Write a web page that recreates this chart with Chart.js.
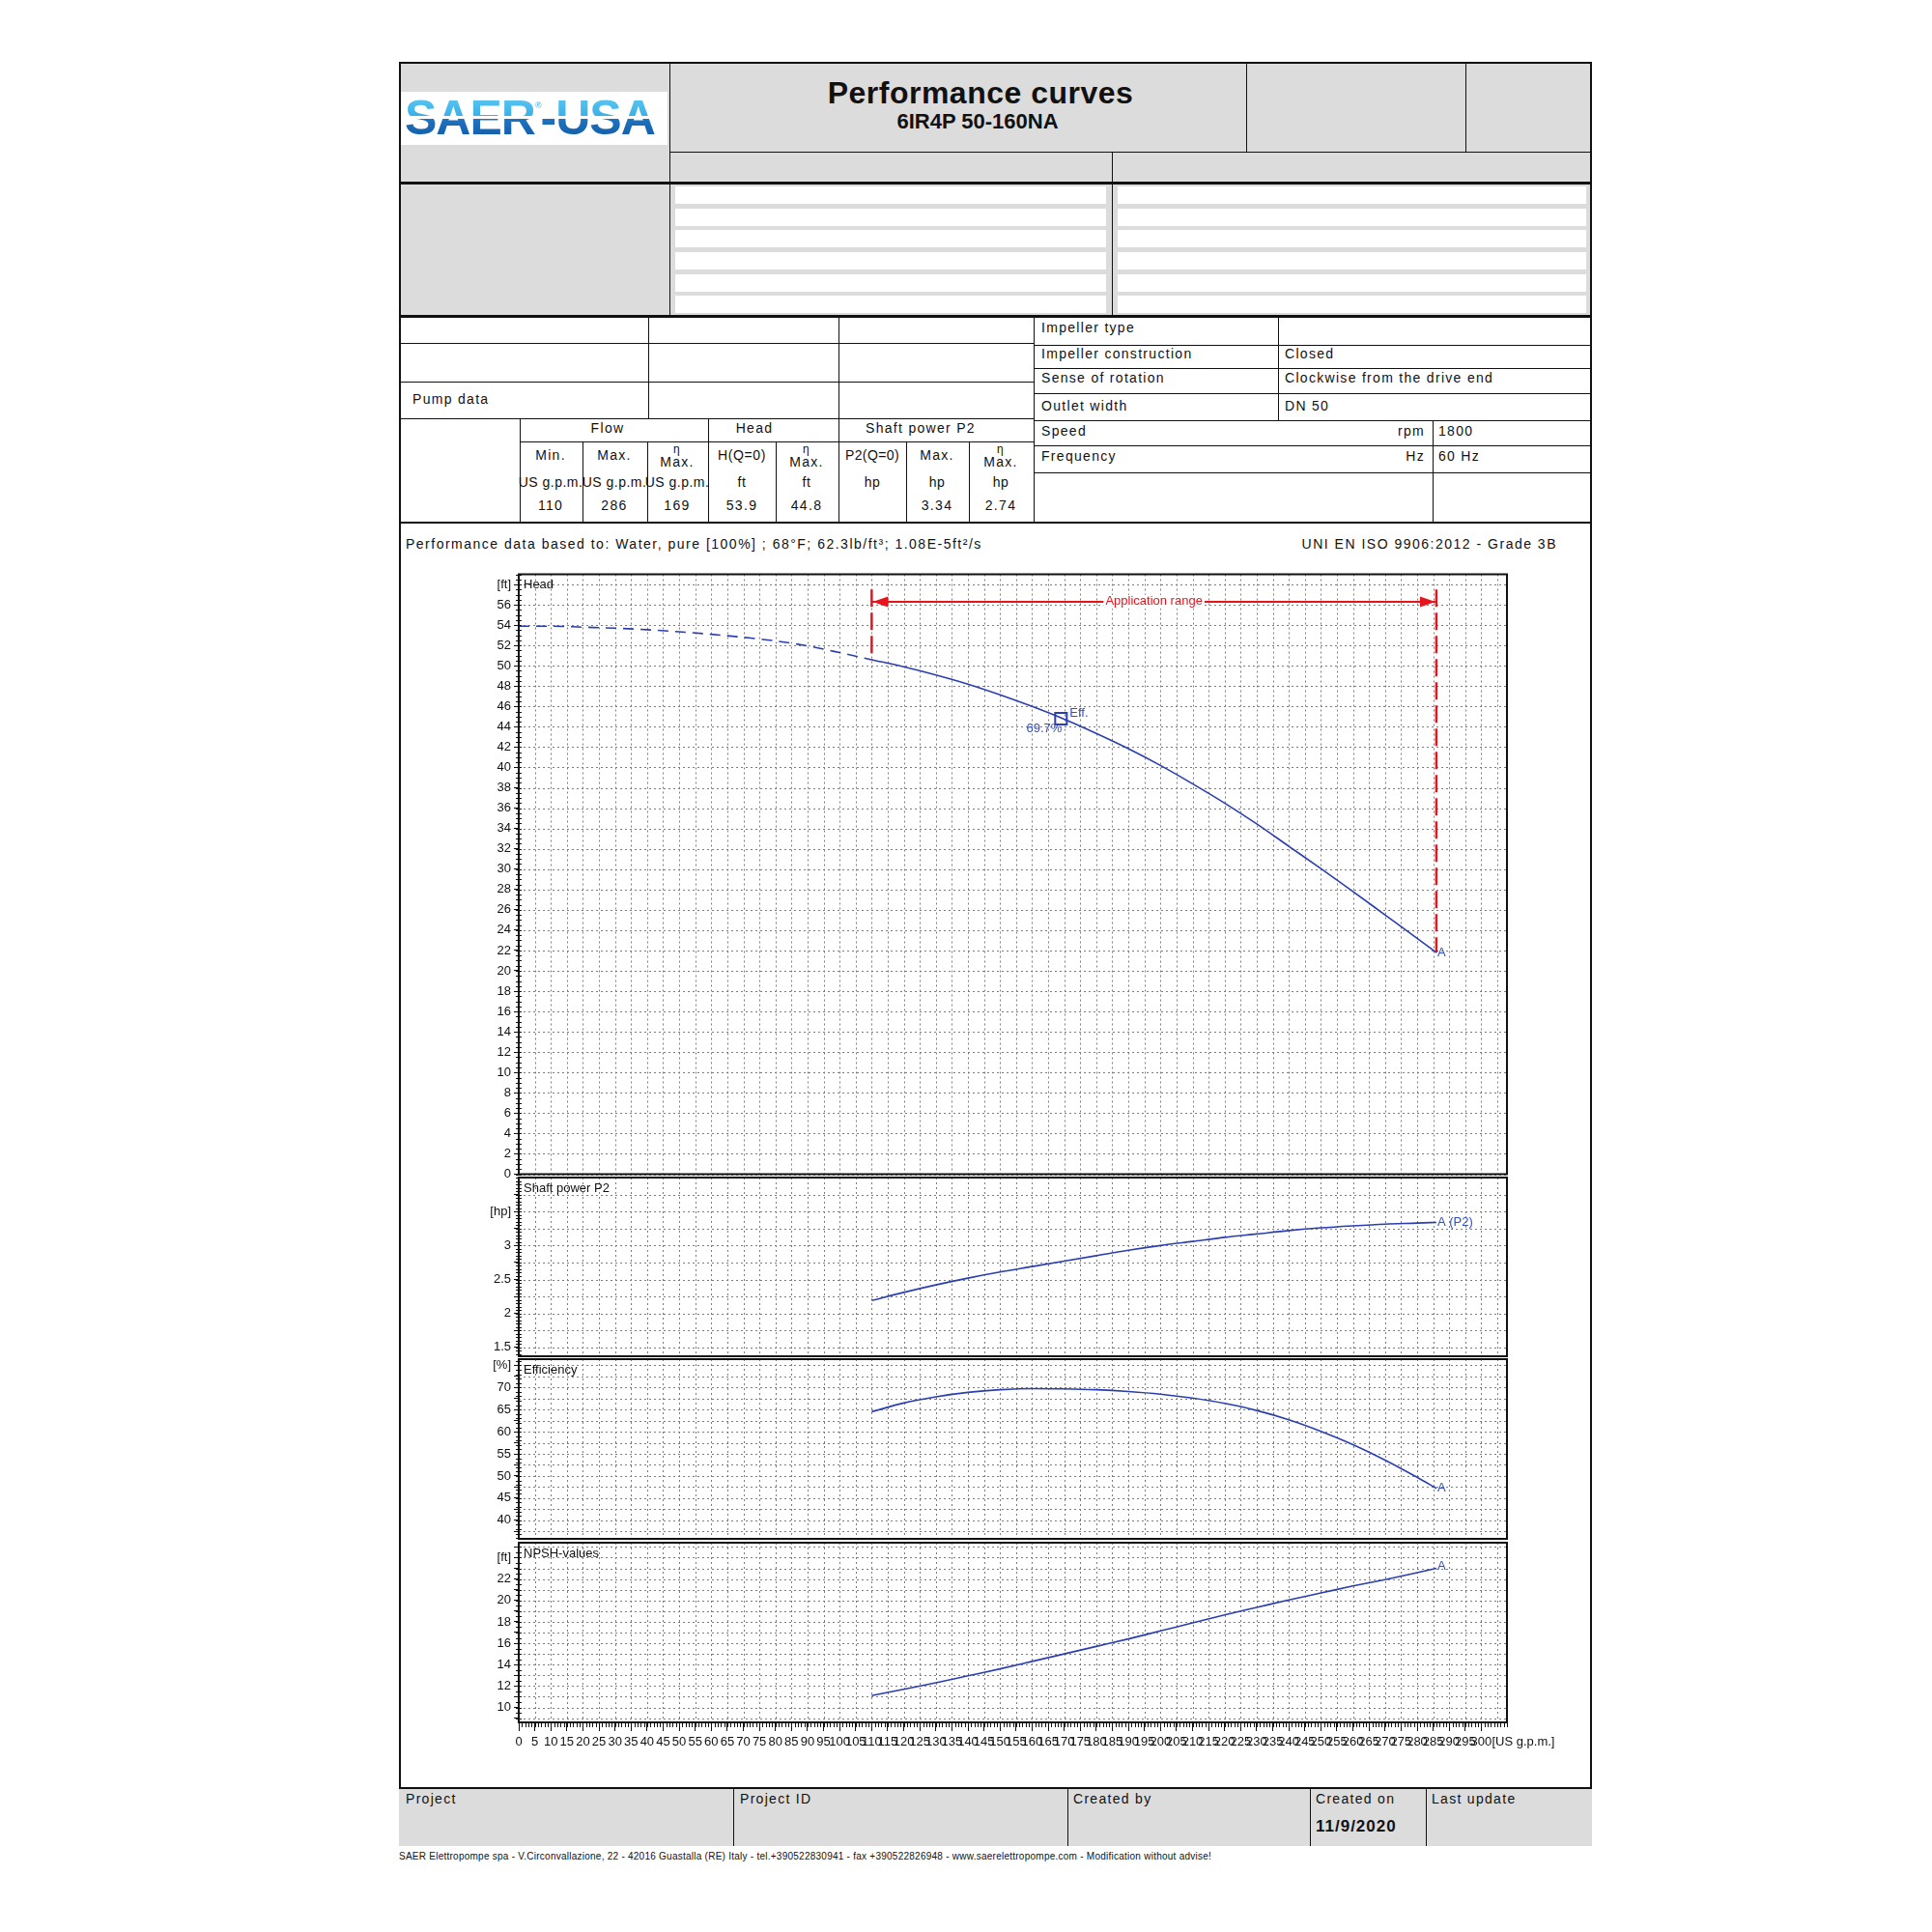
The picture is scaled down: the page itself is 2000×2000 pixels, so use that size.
<!DOCTYPE html>
<html lang="en">
<head>
<meta charset="UTF-8">
<title>Performance curves - 6IR4P 50-160NA</title>
<script src="https://cdn.jsdelivr.net/npm/chart.js"></script>
<style>
  body { margin: 0; background: #fff; font-family: "Liberation Sans", Arial, sans-serif; color: #111; }
  #page { position: relative; width: 2000px; height: 2000px; overflow: hidden; }
  .box { position: absolute; box-sizing: border-box; }
  .t { position: absolute; white-space: nowrap; font-size: 14px; line-height: 16px; letter-spacing: 1.3px; }
  canvas { position: absolute; }
  .logo {
    position: absolute; left: 419px; top: 95px; font-size: 50px; line-height: 54px; font-weight: bold;
    letter-spacing: -1px;
    background: linear-gradient(to bottom, #63cdf3 0%, #3bb0e8 46%, #ffffff 47%, #ffffff 51%, #1f73c0 52%, #0e55a0 100%);
    -webkit-background-clip: text; background-clip: text; color: transparent;
  }
</style>
</head>
<body>
<div id="page">
  <div class="logo">SAER<span style="font-size:9px;vertical-align:top;line-height:28px">®</span>-USA</div>
</div>

<script>
// ---- data read from the sheet ----
const flowLow = [0, 10, 20, 30, 40, 50, 60, 70, 80, 90, 100, 110];
const headLow = [53.9, 53.9, 53.8, 53.7, 53.55, 53.35, 53.1, 52.8, 52.45, 51.95, 51.3, 50.6];

const flowOp  = [110, 120, 130, 140, 150, 160, 170, 180, 190, 200, 210, 220, 230, 240, 250, 260, 270, 280, 286];
const headOp  = [50.6, 49.9, 49.1, 48.2, 47.15, 46.0, 44.75, 43.35, 41.85, 40.2, 38.4, 36.5, 34.45, 32.25, 30.05, 27.8, 25.5, 23.2, 21.8];
const powerOp = [2.19, 2.31, 2.42, 2.52, 2.61, 2.69, 2.77, 2.85, 2.93, 3.0, 3.06, 3.12, 3.17, 3.22, 3.26, 3.29, 3.315, 3.33, 3.34];
const effOp   = [64.5, 66.5, 67.9, 68.9, 69.5, 69.75, 69.7, 69.5, 69.1, 68.5, 67.6, 66.4, 64.8, 62.7, 60.1, 57.1, 53.6, 49.7, 47.2];
const npshOp  = [11.1, 11.7, 12.3, 12.95, 13.6, 14.3, 15.0, 15.7, 16.4, 17.15, 17.9, 18.65, 19.35, 20.05, 20.7, 21.35, 21.95, 22.6, 23.0];

const bepFlow = 169, bepHead = 44.8, bepEff = 69.7;
const appRange = [110, 286];
const appTop = 57.5, appArrow = 56.3;

// ---- axes / ticks ----
const flowMax = 308;
const flowTicks = [0, 5, 10, 15, 20, 25, 30, 35, 40, 45, 50, 55, 60, 65, 70, 75, 80, 85, 90, 95, 100,
  105, 110, 115, 120, 125, 130, 135, 140, 145, 150, 155, 160, 165, 170, 175, 180, 185, 190, 195, 200,
  205, 210, 215, 220, 225, 230, 235, 240, 245, 250, 255, 260, 265, 270, 275, 280, 285, 290, 295, 300];
const flowGrid = flowTicks.concat([305]);

const headGrid = [0, 2, 4, 6, 8, 10, 12, 14, 16, 18, 20, 22, 24, 26, 28, 30, 32, 34, 36, 38, 40, 42, 44, 46, 48, 50, 52, 54, 56, 58];
const powerGrid = [1.5, 1.75, 2, 2.25, 2.5, 2.75, 3, 3.25, 3.5, 3.75];
const powerLabels = [1.5, 2, 2.5, 3];
const effGrid = [37.5, 40, 42.5, 45, 47.5, 50, 52.5, 55, 57.5, 60, 62.5, 65, 67.5, 70, 72.5, 75];
const effLabels = [40, 45, 50, 55, 60, 65, 70];
const npshGrid = [9, 10, 11, 12, 13, 14, 15, 16, 17, 18, 19, 20, 21, 22, 23, 24, 25];
const npshLabels = [10, 12, 14, 16, 18, 20, 22];

const BLUE = '#2a3eb1', LBLUE = '#3050c8', RED = '#e8141c';
const FONT = '"Liberation Sans Narrow", "Liberation Sans", Arial, sans-serif';
Chart.defaults.font.family = FONT;
Chart.defaults.font.size = 13;
Chart.defaults.color = '#111';

// ---- page layout helpers ----
const page = document.getElementById('page');
function box(x, y, w, h, bg) {
  const d = document.createElement('div');
  d.className = 'box';
  d.style.cssText = `left:${x}px;top:${y}px;width:${w}px;height:${h}px;background:${bg}`;
  page.appendChild(d);
}
function hline(x1, x2, y, t) { box(x1, y, x2 - x1, t || 1, '#111'); }
function vline(x, y1, y2, t) { box(x, y1, t || 1, y2 - y1, '#111'); }
function text(x, cy, s, align, css) {
  const d = document.createElement('div');
  d.className = 't';
  d.textContent = s;
  const tx = align === 'c' ? 'translateX(-50%)' : align === 'r' ? 'translateX(-100%)' : 'none';
  d.style.cssText = `left:${x}px;top:${cy - 8}px;transform:${tx};` + (css || '');
  page.appendChild(d);
}
const GRAY = '#dcdcdc';

// header block
box(413, 64, 1235, 125, GRAY);
box(415, 95, 276, 55, '#fff');
page.appendChild(document.querySelector('.logo'));
text(1015, 96, 'Performance curves', 'c', 'font-size:32px;line-height:36px;top:78px;font-weight:bold;letter-spacing:0.5px');
text(1012, 126, '6IR4P 50-160NA', 'c', 'font-size:22px;line-height:24px;top:114px;font-weight:bold;letter-spacing:0');
vline(693, 64, 327); vline(1290, 64, 157); vline(1517, 64, 157);
hline(693, 1648, 157); vline(1151, 157, 327);
hline(413, 1648, 188, 3);

// blank info block
box(413, 191, 1235, 135, GRAY);
[193, 216, 238, 261, 284, 306].forEach(y => { box(699, y, 446, 18, '#fff'); box(1157, y, 485, 18, '#fff'); });
vline(693, 189, 327); vline(1151, 189, 327);
hline(413, 1648, 326, 3);

// pump data table
hline(413, 1070, 355); hline(413, 1070, 395); hline(413, 1070, 433);
vline(671, 329, 433); vline(868, 329, 541);
vline(538, 433, 541); vline(733, 433, 541); hline(538, 1070, 457);
[603, 670, 803, 938, 1003].forEach(x => vline(x, 457, 541));
vline(1070, 329, 541);
[357, 381, 407, 435, 461, 489].forEach(y => hline(1070, 1648, y));
vline(1323, 329, 435); vline(1483, 435, 541);
hline(413, 1648, 540, 2);

text(427, 413, 'Pump data');
text(629, 443, 'Flow', 'c'); text(781, 443, 'Head', 'c'); text(953, 443, 'Shaft power P2', 'c');
text(570, 471, 'Min.', 'c'); text(636, 471, 'Max.', 'c');
text(701, 465, '\u03b7', 'c', 'font-size:12px'); text(701, 478, 'Max.', 'c');
text(768, 471, 'H(Q=0)', 'c', 'letter-spacing:0.6px');
text(835, 465, '\u03b7', 'c', 'font-size:12px'); text(835, 478, 'Max.', 'c');
text(903, 471, 'P2(Q=0)', 'c', 'letter-spacing:0.4px'); text(970, 471, 'Max.', 'c');
text(1036, 465, '\u03b7', 'c', 'font-size:12px'); text(1036, 478, 'Max.', 'c');
['US g.p.m.', 'US g.p.m.', 'US g.p.m.', 'ft', 'ft', 'hp', 'hp', 'hp'].forEach((s, i) =>
  text([570, 636, 701, 768, 835, 903, 970, 1036][i], 499, s, 'c', 'letter-spacing:0.5px'));
['110', '286', '169', '53.9', '44.8', '', '3.34', '2.74'].forEach((s, i) =>
  text([570, 636, 701, 768, 835, 903, 970, 1036][i], 523, s, 'c'));

text(1078, 339, 'Impeller type');
text(1078, 366, 'Impeller construction'); text(1330, 366, 'Closed');
text(1078, 391, 'Sense of rotation'); text(1330, 391, 'Clockwise from the drive end');
text(1078, 420, 'Outlet width'); text(1330, 420, 'DN 50');
text(1078, 446, 'Speed'); text(1475, 446, 'rpm', 'r'); text(1489, 446, '1800');
text(1078, 472, 'Frequency'); text(1475, 472, 'Hz', 'r'); text(1489, 472, '60 Hz');

text(420, 563, 'Performance data based to:  Water, pure [100%] ; 68\u00b0F; 62.3lb/ft\u00b3; 1.08E-5ft\u00b2/s', null, 'letter-spacing:1.5px');
text(1612, 563, 'UNI EN ISO 9906:2012 - Grade 3B', 'r', 'letter-spacing:1.5px');

// frame
hline(413, 1648, 64, 2); hline(413, 1648, 1850, 2);
vline(413, 64, 1851, 2); vline(1646, 64, 1851, 2);

// footer
box(413, 1852, 1235, 59, GRAY);
[759, 1105, 1356, 1476].forEach(x => vline(x, 1852, 1911));
text(420, 1862, 'Project'); text(766, 1862, 'Project ID'); text(1111, 1862, 'Created by');
text(1362, 1862, 'Created on'); text(1482, 1862, 'Last update');
text(1362, 1890, '11/9/2020', null, 'font-weight:bold;font-size:17px;line-height:18px;letter-spacing:1px');
text(413, 1922, 'SAER Elettropompe spa - V.Circonvallazione, 22 - 42016 Guastalla (RE) Italy - tel.+390522830941 - fax +390522826948 - www.saerelettropompe.com - Modification without advise!',
  null, 'font-size:10px;letter-spacing:0.25px');

// ---- charts ----
function pts(xs, ys) { return xs.map((x, i) => ({ x: x, y: ys[i] })); }
function curve(xs, ys, extra) {
  return Object.assign({ data: pts(xs, ys), borderColor: BLUE, borderWidth: 1.6, pointRadius: 0,
    cubicInterpolationMode: 'monotone', fill: false }, extra || {});
}

function panelPlugin(info) {
  return {
    id: 'panel',
    beforeDatasetsDraw(chart) {
      const { ctx, chartArea: a, scales: { x, y } } = chart;
      ctx.save();
      ctx.strokeStyle = '#7c7c7c';
      ctx.lineWidth = 1;
      ctx.setLineDash([2, 3]);
      ctx.beginPath();
      flowGrid.forEach(v => {
        const px = Math.round(x.getPixelForValue(v)) + 0.5;
        ctx.moveTo(px, a.top); ctx.lineTo(px, a.bottom);
      });
      info.grid.forEach(v => {
        const py = Math.round(y.getPixelForValue(v)) + 0.5;
        ctx.moveTo(a.left, py); ctx.lineTo(a.right, py);
      });
      ctx.stroke();
      ctx.restore();
    },
    afterDatasetsDraw(chart) {
      const { ctx, chartArea: a, scales: { x, y } } = chart;
      ctx.save();
      // minor ruler ticks on the left axis
      ctx.strokeStyle = '#111';
      ctx.lineWidth = 1;
      ctx.beginPath();
      for (let v = info.minorStart; v <= y.max; v += info.minor) {
        const py = Math.round(y.getPixelForValue(v)) + 0.5;
        ctx.moveTo(a.left - 3, py); ctx.lineTo(a.left + 3, py);
      }
      ctx.stroke();
      // frame
      ctx.lineWidth = 2;
      ctx.strokeRect(a.left, a.top, a.right - a.left, a.bottom - a.top);
      // panel title
      ctx.fillStyle = '#111';
      ctx.font = '13px ' + FONT;
      ctx.textBaseline = 'middle';
      ctx.textAlign = 'left';
      ctx.fillText(info.title, a.left + 5, a.top + 11);
      // end label
      if (info.endLabel) {
        const px = x.getPixelForValue(flowOp[flowOp.length - 1]);
        const py = y.getPixelForValue(info.endValue);
        ctx.fillStyle = LBLUE;
        ctx.fillText(info.endLabel, px + 1, py + (info.endDy || 0));
      }
      if (info.extra) info.extra(chart);
      ctx.restore();
    }
  };
}

function drawHeadExtras(chart) {
  const { ctx, scales: { x, y } } = chart;
  const x1 = x.getPixelForValue(appRange[0]);
  const x2 = x.getPixelForValue(appRange[1]);
  const ya = y.getPixelForValue(appArrow);
  ctx.fillStyle = RED;
  ctx.beginPath(); ctx.moveTo(x1 + 1, ya); ctx.lineTo(x1 + 17, ya - 5.5); ctx.lineTo(x1 + 17, ya + 5.5); ctx.closePath(); ctx.fill();
  ctx.beginPath(); ctx.moveTo(x2 - 1, ya); ctx.lineTo(x2 - 17, ya - 5.5); ctx.lineTo(x2 - 17, ya + 5.5); ctx.closePath(); ctx.fill();
  ctx.font = '13px ' + FONT;
  ctx.textAlign = 'center';
  const label = 'Application range';
  const w = ctx.measureText(label).width;
  const tx = (x1 + x2) / 2;
  ctx.fillStyle = '#fff';
  ctx.fillRect(tx - w / 2 - 2, ya - 7, w + 4, 14);
  ctx.fillStyle = RED;
  ctx.fillText(label, tx, ya);
  // best efficiency point labels
  const bx = x.getPixelForValue(bepFlow), by = y.getPixelForValue(bepHead);
  ctx.fillStyle = LBLUE;
  ctx.textAlign = 'left';
  ctx.fillText('Eff.', bx + 9, by - 6);
  ctx.textAlign = 'right';
  ctx.fillText(bepEff + '%', bx + 1, by + 10);
}

function drawFlowRuler(chart) {
  const { ctx, chartArea: a, scales: { x } } = chart;
  ctx.strokeStyle = '#111';
  ctx.lineWidth = 1;
  ctx.beginPath();
  for (let v = 0; v <= flowMax; v += 1) {
    const px = Math.round(x.getPixelForValue(v)) + 0.5;
    ctx.moveTo(px, a.bottom); ctx.lineTo(px, a.bottom + 5);
  }
  ctx.stroke();
  ctx.fillStyle = '#111';
  ctx.font = '13px ' + FONT;
  ctx.textAlign = 'left';
  ctx.fillText('[US g.p.m.]', x.getPixelForValue(300) + 11, a.bottom + 20);
}

const AXIS_W = 60, PAD_R = 70;
function makePanel(cfg) {
  const c = document.createElement('canvas');
  c.width = AXIS_W + 1023 + PAD_R;
  c.height = cfg.height;
  c.style.left = (537 - AXIS_W) + 'px';
  c.style.top = cfg.top + 'px';
  page.appendChild(c);
  const bottomAxis = !!cfg.bottomAxis;
  return new Chart(c, {
    type: 'line',
    data: { datasets: cfg.datasets },
    options: {
      animation: false, responsive: false, maintainAspectRatio: false,
      layout: { padding: { top: 4, right: PAD_R, bottom: cfg.padBottom, left: 0 } },
      plugins: { legend: { display: false }, tooltip: { enabled: false } },
      scales: {
        x: {
          type: 'linear', min: 0, max: flowMax,
          afterBuildTicks: s => { s.ticks = flowTicks.map(v => ({ value: v })); },
          afterFit: s => { s.height = bottomAxis ? 34 : 0; s.paddingLeft = 0; s.paddingRight = 0; },
          ticks: { display: bottomAxis, autoSkip: false, maxRotation: 0, minRotation: 0, padding: 4,
                   font: { size: 13 }, callback: v => String(v) },
          grid: { display: bottomAxis, drawOnChartArea: false, drawTicks: true, tickLength: 9, tickColor: '#111' },
          border: { display: false }
        },
        y: {
          type: 'linear', min: cfg.min, max: cfg.max,
          afterBuildTicks: s => { s.ticks = cfg.grid.map(v => ({ value: v })); },
          afterFit: s => { s.width = AXIS_W; s.paddingTop = 0; s.paddingBottom = 0; },
          ticks: { autoSkip: false, padding: 3, font: { size: 13 }, callback: cfg.label },
          grid: { drawOnChartArea: false, drawTicks: true, tickLength: 5, tickColor: '#111' },
          border: { display: true, color: '#111', width: 1.5 }
        }
      }
    },
    plugins: [panelPlugin(cfg.info)]
  });
}

const last = flowOp.length - 1;

makePanel({
  top: 584, height: 642, padBottom: 10, min: 0, max: 59, grid: headGrid,
  label: v => v === 58 ? '[ft]' : String(v),
  info: { grid: headGrid, title: 'Head', minor: 0.5, minorStart: 0, endLabel: 'A', endValue: headOp[last], extra: drawHeadExtras },
  datasets: [
    curve(flowLow, headLow, { borderDash: [11, 7] }),
    curve(flowOp, headOp),
    { data: [{ x: appRange[0], y: appTop }, { x: appRange[0], y: headOp[0] }], borderColor: RED, borderWidth: 2.5, borderDash: [18, 6], pointRadius: 0 },
    { data: [{ x: appRange[1], y: appTop }, { x: appRange[1], y: headOp[last] }], borderColor: RED, borderWidth: 2.5, borderDash: [18, 6], pointRadius: 0 },
    { data: [{ x: appRange[0], y: appArrow }, { x: appRange[1], y: appArrow }], borderColor: RED, borderWidth: 2, pointRadius: 0 },
    { data: [{ x: bepFlow, y: bepHead }], showLine: false, pointStyle: 'rect', pointRadius: 8.5,
      borderColor: BLUE, borderWidth: 2, backgroundColor: 'rgba(255,255,255,0)' }
  ]
});

makePanel({
  top: 1215, height: 199, padBottom: 10, min: 1.37, max: 4.0, grid: powerGrid,
  label: v => v === 3.5 ? '[hp]' : (powerLabels.includes(v) ? String(v) : ''),
  info: { grid: powerGrid, title: 'Shaft power P2', minor: 0.05, minorStart: 1.4, endLabel: 'A (P2)', endValue: powerOp[last] },
  datasets: [curve(flowOp, powerOp)]
});

makePanel({
  top: 1403, height: 200, padBottom: 10, min: 35.8, max: 76.4, grid: effGrid,
  label: v => v === 75 ? '[%]' : (effLabels.includes(v) ? String(v) : ''),
  info: { grid: effGrid, title: 'Efficiency', minor: 1, minorStart: 36, endLabel: 'A', endValue: effOp[last] },
  datasets: [curve(flowOp, effOp)]
});

makePanel({
  top: 1593, height: 228, padBottom: 4, min: 8.6, max: 25.4, grid: npshGrid, bottomAxis: true,
  label: v => v === 24 ? '[ft]' : (npshLabels.includes(v) ? String(v) : ''),
  info: { grid: npshGrid, title: 'NPSH-values', minor: 0.5, minorStart: 9, endLabel: 'A', endValue: npshOp[last], endDy: -2, extra: drawFlowRuler },
  datasets: [curve(flowOp, npshOp)]
});
</script>
</body>
</html>
